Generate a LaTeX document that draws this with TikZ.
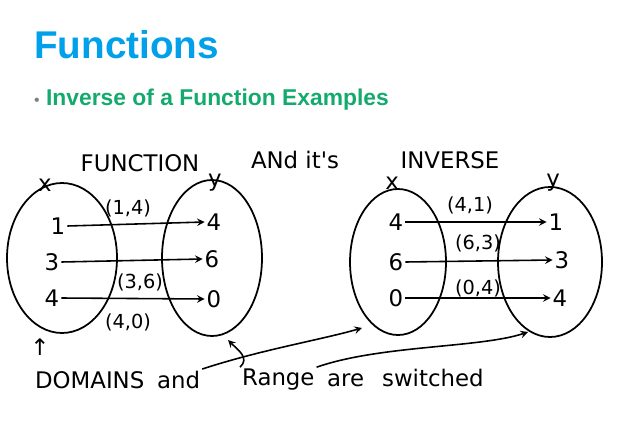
\documentclass[tikz,border=0pt]{standalone}
\usepackage{fontspec}
\setmainfont{Liberation Sans}
\newfontfamily\hand{DejaVu Sans}
\definecolor{tblue}{RGB}{0,160,235}
\definecolor{tgreen}{RGB}{20,170,110}
\begin{document}
\begin{tikzpicture}[x=0.02cm,y=-0.02cm,
  hw/.style={font=\hand\fontsize{13}{13}\selectfont, inner sep=1pt},
  hs/.style={font=\hand\fontsize{11}{11}\selectfont, inner sep=1pt},
  ar/.style={->, >=stealth, line width=0.9pt}]
\useasboundingbox (0,0) rectangle (624,432);
\node[anchor=west, text=tblue, font=\bfseries\fontsize{22}{22}\selectfont] (t) at (28,45) {Functions};
\node[anchor=west, font=\bfseries\fontsize{13}{13}\selectfont] (s) at (28,100) {\textcolor{gray}{\mdseries\small•} \textcolor{tgreen}{Inverse of a Function Examples}};
\node[hw] (h1) at (140,163) {FUNCTION};
\node[hw] (h2) at (295,160) {ANd it's};
\node[hw] (h3) at (450,160) {INVERSE};
\draw[line width=1pt] (62,258) ellipse [x radius=55, y radius=75];
\draw[line width=1pt] (212,258) ellipse [x radius=50, y radius=78];
\draw[line width=1pt] (398,262) ellipse [x radius=48, y radius=73];
\draw[line width=1pt] (550,262) ellipse [x radius=52, y radius=75];
\node[hw] (x1) at (45,185) {x};
\node[hw] (y1) at (215,183) {y};
\node[hw] (a1) at (58,226) {1};
\node[hw] (a2) at (52,262) {3};
\node[hw] (a3) at (52,298) {4};
\node[hw] (b1) at (214,222) {4};
\node[hw] (b2) at (212,259) {6};
\node[hw] (b3) at (214,299) {0};
\draw[ar] (a1.east) -- (b1.west);
\draw[ar] (a2.east) -- (b2.west);
\draw[ar] (a3.east) -- (b3.west);
\node[hs] (l1) at (128,208) {(1,4)};
\node[hs] (l2) at (140,282) {(3,6)};
\node[hs] (l3) at (128,322) {(4,0)};
\node[hw] (x2) at (392,183) {x};
\node[hw] (y2) at (553,183) {y};
\node[hw] (c1) at (396,222) {4};
\node[hw] (c2) at (396,262) {6};
\node[hw] (c3) at (396,298) {0};
\node[hw] (d1) at (556,222) {1};
\node[hw] (d2) at (562,260) {3};
\node[hw] (d3) at (560,298) {4};
\draw[ar] (c1.east) -- (d1.west);
\draw[ar] (c2.east) -- (d2.west);
\draw[ar] (c3.east) -- (d3.west);
\node[hs] (m1) at (470,205) {(4,1)};
\node[hs] (m2) at (478,243) {(6,3)};
\node[hs] (m3) at (478,288) {(0,4)};
\node[hw] (up) at (40,347) {↑};
\node[hw, anchor=west] (dom) at (33,380) {DOMAINS};
\node[hw, anchor=west] (and) at (155,380) {and};
\node[hw, anchor=west] (rng) at (240,380) {Range};
\node[hw, anchor=west] (are) at (325,380) {are};
\node[hw, anchor=west] (sw) at (380,378) {switched};
\coordinate (p1) at (362,328);
\coordinate (p2) at (228,340);
\coordinate (p3) at (528,332);
\draw[ar] (and.north east) .. controls (260,350) and (320,340) .. (p1);
\draw[ar] (rng.north west) .. controls (250,358) and (238,350) .. (p2);
\draw[ar] (rng.north east) .. controls (380,345) and (480,348) .. (p3);
\end{tikzpicture}
\end{document}
